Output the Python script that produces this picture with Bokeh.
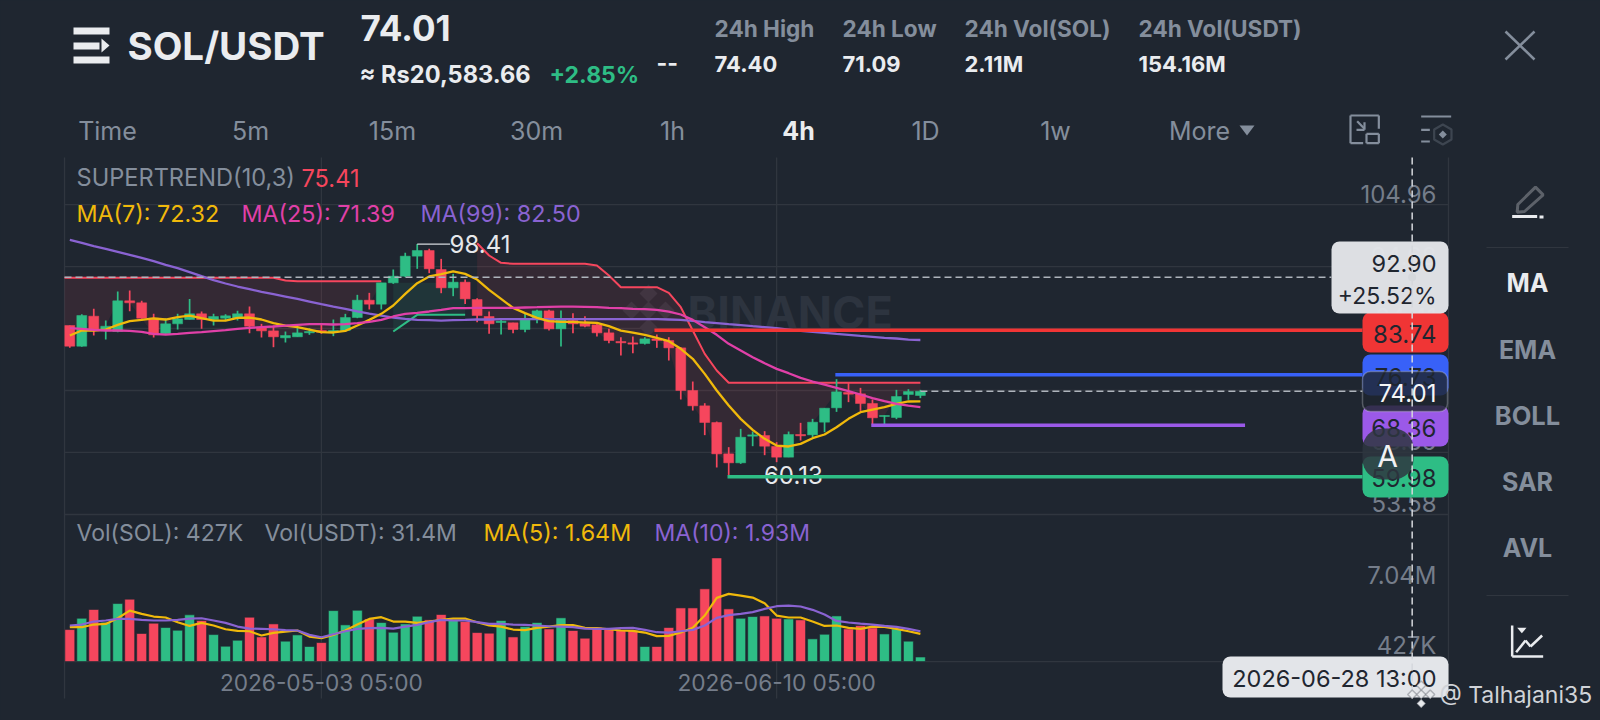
from bokeh.plotting import figure
from bokeh.embed import file_html
from bokeh.resources import INLINE
from bokeh.core.properties import value
from bokeh.models import (Range1d, Label, BoxAnnotation, PolyAnnotation)

# ---------- data ----------
opens = [84.90,81.48,86.45,84.02,83.91,88.99,88.66,86.12,83.52,85.18,85.90,86.84,85.90,86.12,86.12,86.84,84.63,84.02,82.86,83.03,83.69,84.08,83.80,84.08,86.23,89.10,88.44,91.98,93.08,96.40,97.34,94.19,91.15,92.09,89.21,86.40,85.40,85.35,84.24,86.01,87.33,84.35,85.73,85.24,85.01,83.69,82.25,82.03,81.92,82.69,82.42,81.20,74.13,71.59,68.83,63.63,62.14,66.56,66.67,64.85,63.08,66.84,66.78,68.88,71.26,73.80,73.58,71.98,69.82,69.65,73.47,73.30]
highs = [84.90,86.78,87.67,85.73,90.54,90.71,88.99,86.84,86.12,86.84,89.32,87.23,86.84,86.78,87.34,88.05,85.18,84.90,83.91,84.63,84.46,85.02,85.90,86.84,89.99,90.32,91.98,94.19,96.95,98.41,97.61,95.95,93.47,92.53,89.43,87.22,85.84,85.35,86.84,87.50,87.50,87.39,86.95,86.45,85.46,84.35,82.97,83.08,82.97,83.41,82.97,81.31,75.62,72.03,68.99,64.74,67.78,67.33,67.39,65.57,67.33,68.77,69.43,71.20,76.01,75.51,74.57,72.64,69.99,74.24,74.35,74.24]
lows = [81.20,81.37,83.25,82.58,83.80,87.28,86.01,82.92,83.36,84.24,85.90,84.35,84.90,85.73,85.73,83.63,82.92,81.31,82.09,83.03,83.36,83.52,83.14,83.91,86.12,87.56,87.56,91.81,92.92,94.30,93.58,90.26,89.77,88.49,85.46,83.52,83.41,83.63,83.80,85.29,84.07,81.42,83.63,84.63,83.08,81.98,79.93,80.32,81.75,81.20,79.10,72.64,70.81,66.73,61.37,60.13,61.97,64.90,63.41,62.25,63.08,65.84,66.39,67.22,70.59,72.20,70.76,68.49,68.49,69.38,72.58,72.86]
closes = [81.48,86.56,84.02,84.79,88.99,88.66,86.12,83.36,85.18,86.01,86.84,85.90,86.40,86.51,86.84,84.79,84.02,83.03,83.25,83.69,83.91,83.80,84.08,86.23,89.10,88.44,91.98,93.08,96.40,97.34,94.30,91.15,92.09,89.32,86.56,85.18,85.62,84.24,85.95,87.33,84.35,85.84,85.18,84.79,83.69,82.42,82.03,81.81,82.69,82.42,81.20,74.13,71.59,68.83,63.63,62.14,66.39,66.78,64.90,63.08,66.84,66.62,68.88,71.20,73.91,73.52,71.98,69.60,69.99,73.14,73.96,74.01]
ma7 = [83.25,84.08,84.08,84.24,85.02,85.62,85.84,86.07,85.90,86.29,86.56,86.12,85.73,85.73,86.18,86.23,85.90,85.29,84.90,84.63,84.24,83.80,83.75,84.02,84.90,85.84,86.84,88.22,90.15,91.92,93.03,93.41,93.86,93.47,92.53,90.82,89.32,87.83,86.95,86.17,85.62,85.51,85.51,85.40,85.35,84.79,84.07,83.74,83.36,82.86,82.31,81.04,79.38,76.89,74.13,71.64,69.43,67.61,66.12,65.01,64.85,65.29,66.23,66.84,68.05,69.43,70.54,70.98,71.37,71.92,72.31,72.32]
ma25 = [84.46,84.35,84.19,84.08,84.08,84.02,83.86,83.52,83.41,83.52,83.69,83.80,83.97,84.13,84.35,84.52,84.63,84.74,84.90,85.02,85.13,85.13,85.07,85.13,85.29,85.51,85.84,86.40,86.84,87.00,87.23,87.50,87.78,87.78,87.83,87.83,87.83,87.83,87.89,87.94,88.00,88.05,88.05,88.00,87.94,87.83,87.78,87.67,87.61,87.50,87.22,86.73,85.84,84.63,83.36,81.87,80.76,79.65,78.66,77.72,77.00,76.23,75.62,75.12,74.57,74.02,73.47,72.86,72.36,71.92,71.64,71.39]
ma99 = [99.10,98.61,98.05,97.61,97.12,96.62,96.12,95.57,94.96,94.41,93.75,93.08,92.42,91.87,91.37,90.93,90.49,90.10,89.71,89.32,88.88,88.44,88.05,87.67,87.23,86.89,86.56,86.23,86.01,85.84,85.79,85.73,85.79,85.84,85.90,85.90,85.95,85.95,85.95,85.95,85.95,85.95,85.95,85.95,85.95,85.95,85.95,85.95,85.95,85.95,85.90,85.84,85.68,85.46,85.29,85.12,84.96,84.79,84.63,84.46,84.24,84.02,83.85,83.69,83.52,83.36,83.19,83.03,82.86,82.75,82.58,82.50]
trend_red_1 = [92.81]*18 + [92.36] + [92.25]*8
trend_green = [83.91,85.29,86.67,86.67,86.67,86.67,86.67]
trend_red_2 = [98.55,96.51,95.29,95.13,95.13,95.13,95.13,95.13,95.13,95.13,94.85,93.19,91.26,91.26,91.26,91.26,90.32,87.94,84.07,80.21,77.45,75.41,75.41,75.41,75.41,75.41,75.41,75.41,75.41,75.41,75.41,75.41,75.41,75.41,75.41,75.41,75.41,75.41]
green_fill_top = 92.0
volumes = [3.00,4.06,4.88,3.69,5.44,5.85,2.63,3.60,3.19,2.94,4.38,3.85,2.53,1.44,2.00,4.16,2.31,3.53,1.91,2.50,1.41,1.78,4.78,3.44,4.81,4.00,3.66,2.75,3.53,4.25,3.91,4.41,3.85,3.75,2.72,2.66,3.85,2.31,3.28,3.66,3.06,4.10,2.91,2.19,3.22,3.06,2.91,2.91,1.41,1.41,3.19,5.03,5.03,6.82,9.72,4.94,4.06,4.22,4.28,4.06,4.00,3.91,2.13,2.56,4.28,3.06,3.38,3.16,2.59,3.06,1.91,0.427]
vol_ma5 = [3.22,3.22,3.47,3.53,4.06,4.78,4.47,4.22,4.13,3.69,3.34,3.63,3.38,3.03,2.88,2.84,2.44,2.69,2.81,2.91,2.34,2.19,2.50,2.91,3.47,4.00,4.16,3.75,3.75,3.63,3.75,3.91,4.03,4.03,3.69,3.38,3.28,3.00,2.94,3.16,3.28,3.41,3.41,3.16,3.13,3.03,2.91,2.88,2.72,2.38,2.41,2.72,3.16,4.31,5.97,6.35,6.19,6.00,5.47,4.31,4.13,4.13,3.75,3.34,3.38,3.16,3.06,3.28,3.25,3.06,2.84,2.59]
vol_ma10 = [3.38,3.47,3.75,3.85,4.00,4.00,3.91,3.85,3.85,3.91,4.03,4.06,3.85,3.63,3.28,3.09,3.06,3.03,2.94,2.91,2.50,2.28,2.56,2.84,3.06,3.13,3.16,3.09,3.28,3.44,3.69,3.91,3.85,3.85,3.69,3.53,3.53,3.47,3.44,3.38,3.31,3.28,3.22,3.09,3.06,3.06,3.13,3.16,2.97,2.75,2.72,2.84,2.97,3.38,4.10,4.35,4.47,4.63,4.94,5.19,5.25,5.16,4.85,4.41,3.81,3.66,3.56,3.47,3.34,3.25,3.06,2.84]
price_ticks = [104.96,94.68,84.41,74.13,63.86,53.58]
vol_ticks = [7.04,0.427]
vol_tick_labels = ["7.04M","427K"]
date_ticks = [21,59]
date_labels = ["2026-05-03 05:00","2026-06-10 05:00"]
level_price = [84.10,76.73,68.36,59.85]
level_start = [48.8,63.9,66.9,54.9]
level_end = [107.9,107.9,98.1,107.9]
level_color = ["#f23535","#3861f8","#9b59e8","#2ebd85"]
cursor_index = 112.05
cursor_price = 92.90
last_price = 74.01
last_index = 71
high_index, high_price = 29, 98.41
low_index, low_price = 60.4, 60.13

# ---------- style ----------
BG = "#1f2630"; GREY = "#848e9c"; AXIS = "#757d8a"; WHITE = "#eaecef"; DARK = "#1f2630"
RED = "#f6465d"; GREEN = "#2ebd85"; YEL = "#f0b90b"; PINK = "#e040a8"; PUR = "#8a63d2"
GRID = "#30363f"; FONT = "Inter"
W = 1600; H = 720
x = list(range(len(closes)))

# scales: one canvas, pane limits expressed in the chart's own units
PANE_LEFT, PANE_RIGHT = -0.442, 115.08     # bar index
PANE_TOP, PANE_BOTTOM = 112.75, 23.08      # price units
TICK_RIGHT = 114.08                        # right edge of the tick labels
TAG_LEFT = 107.9
VOL_DATE_Y = -1.97

p = figure(width=W, height=H, x_range=Range1d(-5.785, 127.77), y_range=Range1d(19.43, 138.78),
           x_axis_location=None, y_axis_location=None, toolbar_location=None, tools="",
           output_backend="svg", background_fill_color=BG, border_fill_color=BG, outline_line_color=None,
           min_border_left=0, min_border_right=0, min_border_top=0, min_border_bottom=0)
p.grid.visible = False
p.extra_y_ranges = {"vol": Range1d(-5.53, 62.0)}

# ---------- grid ----------
p.segment([PANE_LEFT]*len(price_ticks), price_ticks, [PANE_RIGHT]*len(price_ticks), price_ticks, line_color=GRID, line_width=1.3, level="underlay")
p.segment(date_ticks, [PANE_TOP]*2, date_ticks, [PANE_BOTTOM]*2, line_color=GRID, line_width=1.3, level="underlay")
p.segment([PANE_LEFT, PANE_RIGHT], [PANE_TOP]*2, [PANE_LEFT, PANE_RIGHT], [PANE_BOTTOM]*2, line_color=GRID, line_width=1.3, level="underlay")
p.segment([PANE_LEFT], [0], [PANE_RIGHT], [0], y_range_name="vol", line_color=GRID, line_width=1.3, level="underlay")

# ---------- chrome helpers (pixels of the 1600x720 picture) ----------
def txt(s, px, py, size, color, bold=False, align="left", level="annotation"):
    p.add_layout(Label(x=px, y=py, x_units="canvas", y_units="canvas", text=s, text_font=FONT,
                       text_font_size=f"{size}px", text_color=color, text_align=align, text_baseline="middle",
                       text_font_style="bold" if bold else "normal", level=level))

def box(l, t, r, b, color, alpha=1.0, radius=0, line=None):
    p.add_layout(BoxAnnotation(left=l, right=r, top=t, bottom=b, left_units="canvas", right_units="canvas",
                               top_units="canvas", bottom_units="canvas", fill_color=color, fill_alpha=alpha,
                               line_color=line, line_width=1.5, border_radius=radius))

def poly(pts, color, alpha=1.0, line=None, width=2, fill=True, level="annotation"):
    p.add_layout(PolyAnnotation(xs=[a for a, _ in pts], ys=[b for _, b in pts], xs_units="canvas", ys_units="canvas",
                                fill_color=color if fill else None, fill_alpha=alpha if fill else 0,
                                line_color=line, line_width=width, level=level))

def stroke(a, b, c, d, color, w=2.5):
    dx, dy = c-a, d-b
    n = (dx*dx+dy*dy)**0.5
    ox, oy = -dy/n*w/2, dx/n*w/2
    poly([(a+ox, b+oy), (c+ox, d+oy), (c-ox, d-oy), (a-ox, b-oy)], color)

def diamond(cx, cy, r, color, alpha=1.0, level="annotation", line=None, width=2):
    poly([(cx, cy-r), (cx+r, cy), (cx, cy+r), (cx-r, cy)], color, alpha, line=line, width=width, level=level)

# ---------- watermark ----------
WM = "#2d343f"
txt("BINANCE", 687, 312, 45, WM, True, level="underlay")
for dx, dy in [(0, 0), (-17, 0), (17, 0), (0, -17), (0, 17)]:
    diamond(648+dx, 310+dy, 9, WM, level="underlay")

# ---------- price pane ----------
x_red_1 = [PANE_LEFT] + x[1:27]
p.varea(x=x_red_1, y1=trend_red_1, y2=closes[:27], fill_color=RED, fill_alpha=0.10)
p.varea(x=x[27:34], y1=trend_green, y2=[green_fill_top]*7, fill_color=GREEN, fill_alpha=0.10)
p.varea(x=x[34:], y1=trend_red_2, y2=closes[34:], fill_color=RED, fill_alpha=0.10)
p.line(x_red_1, trend_red_1, line_color=RED, line_width=2)
p.line(x[27:34], trend_green, line_color=GREEN, line_width=2)
p.line(x[34:], trend_red_2, line_color=RED, line_width=2)

colors = [GREEN if c >= o else RED for o, c in zip(opens, closes)]
p.segment(x, lows, x, highs, line_color=colors, line_width=1.7)
p.vbar(x=x, top=[max(o, c) for o, c in zip(opens, closes)], bottom=[min(o, c) for o, c in zip(opens, closes)],
       width=0.83, fill_color=colors, line_color=colors, line_width=0.5)

p.line(x, ma99, line_color=PUR, line_width=2.3)
p.line(x, ma7, line_color=YEL, line_width=2.3)
p.line(x, ma25, line_color=PINK, line_width=2.3)

p.text(x=[low_index], y=[low_price], text=[f"{low_price:.2f}"], text_color="#e6e8eb", text_font_size="24px",
       text_font=value(FONT), text_align="center", text_baseline="middle")
p.segment(level_start, level_price, level_end, level_price, line_color=level_color, line_width=3.5)

p.segment([high_index], [high_price], [high_index+2.75], [high_price], line_color="#d5d8dc", line_width=1.2)
p.text(x=[high_index+2.7], y=[high_price], text=[f"{high_price:.2f}"], text_color="#e6e8eb", text_font_size="24px",
       text_font=value(FONT), text_align="left", text_baseline="middle")

p.segment([PANE_LEFT], [cursor_price], [105.3], [cursor_price], line_color="#aeb4bc", line_width=1.5, line_dash="7 4")
p.segment([last_index], [last_price], [TAG_LEFT], [last_price], line_color="#aeb4bc", line_width=1.5, line_dash="7 4")

# ---------- volume pane ----------
p.vbar(x=x, top=volumes, bottom=0, width=0.83, y_range_name="vol", fill_color=colors, line_color=BG, line_width=0.6)
p.line(x, vol_ma5, y_range_name="vol", line_color=YEL, line_width=2.2)
p.line(x, vol_ma10, y_range_name="vol", line_color=PUR, line_width=2.2)

# ---------- ticks ----------
p.text(x=[TICK_RIGHT]*len(price_ticks), y=price_ticks, text=[f"{t:.2f}" for t in price_ticks], y_offset=-11,
       text_color=AXIS, text_font_size="24px", text_font=value(FONT), text_align="right", text_baseline="middle", level="guide")
p.text(x=[TICK_RIGHT]*len(vol_ticks), y=vol_ticks, text=vol_tick_labels, y_offset=-11, y_range_name="vol",
       text_color=AXIS, text_font_size="24px", text_font=value(FONT), text_align="right", text_baseline="middle", level="guide")
p.text(x=date_ticks, y=[VOL_DATE_Y]*2, text=date_labels, y_range_name="vol",
       text_color=AXIS, text_font_size="22.7px", text_font=value(FONT), text_align="center", text_baseline="middle", level="guide")

# ---------- legends ----------
txt("SUPERTREND(10,3)", 76, 177, 23.6, GREY)
txt("75.41", 301, 177, 23.6, RED)
txt("MA(7): 72.32", 76, 213, 23.3, YEL)
txt("MA(25): 71.39", 241, 213, 23.3, PINK)
txt("MA(99): 82.50", 420, 213, 23.3, PUR)
txt("Vol(SOL): 427K", 76, 532, 23, GREY)
txt("Vol(USDT): 31.4M", 264, 532, 23, GREY)
txt("MA(5): 1.64M", 483, 532, 23.3, YEL)
txt("MA(10): 1.93M", 654, 532, 23, PUR)

# ---------- header ----------
box(73, 27, 109, 34, WHITE)
box(73, 42, 99, 49, WHITE)
box(73, 56, 109, 63, WHITE)
poly([(101, 38), (109, 45), (101, 52)], WHITE)
txt("SOL/USDT", 127, 45, 38.5, WHITE, True)
txt("74.01", 360, 27, 35, WHITE, True)
txt("≈ Rs20,583.66", 359, 74, 23.6, WHITE, True)
txt("+2.85%", 549, 74, 23, GREEN, True)
txt("--", 656, 62, 23, WHITE, True)
for px, head, val in [(714, "24h High", "74.40"), (842, "24h Low", "71.09"), (964, "24h Vol(SOL)", "2.11M"), (1138, "24h Vol(USDT)", "154.16M")]:
    txt(head, px, 28, 22.6, GREY, True)
    txt(val, px, 63, 22, WHITE, True)
stroke(1505, 31, 1534, 59, GREY, 2.5)
stroke(1534, 31, 1505, 59, GREY, 2.5)

for px, s in [(107, "Time"), (250, "5m"), (392, "15m"), (536, "30m"), (672, "1h"), (925, "1D"), (1055, "1w"), (1199, "More")]:
    txt(s, px, 130, 25, GREY, False, "center")
txt("4h", 798, 130, 25, WHITE, True, "center")
poly([(1239, 125), (1254, 125), (1246.5, 135)], GREY)

def i1(a, b): return (1330+a/3, 100+b/3)
for seg in [((60, 45), (145, 45)), ((145, 45), (145, 85)), ((60, 45), (60, 128)), ((60, 128), (98, 128)),
            ((108, 100), (145, 100)), ((145, 100), (145, 128)), ((145, 128), (108, 128)), ((108, 128), (108, 100)),
            ((80, 62), (102, 85)), ((102, 65), (102, 88)), ((102, 88), (78, 88)),
            ((272, 48), (362, 48)), ((272, 88), (298, 88)), ((272, 123), (298, 123))]:
    stroke(*i1(*seg[0]), *i1(*seg[1]), GREY, 2.2)
poly([i1(337, 72), i1(363, 87), i1(363, 117), i1(337, 132), i1(311, 117), i1(311, 87)], GREY, line=GREY, width=2.2, fill=False)
diamond(*i1(337, 102), 4, GREY)

# ---------- right side bar ----------
def i5(a, b): return (1290+a/3, 150+b/3)
poly([i5(735, 110), i5(758, 133), i5(702, 183), i5(680, 185), i5(682, 162)], WHITE, line=WHITE, width=3, fill=False)
stroke(*i5(665, 198), *i5(740, 198), WHITE, 3)
box(1539, 215, 1543, 218, WHITE)
box(1486, 246.5, 1568, 247.5, GRID)
txt("MA", 1527, 282, 25, WHITE, True, "center")
txt("EMA", 1527, 349, 25, GREY, True, "center")
txt("BOLL", 1527, 415, 25.5, GREY, True, "center")
txt("SAR", 1527, 481, 25, GREY, True, "center")
txt("AVL", 1527, 547, 25, GREY, True, "center")
box(1486, 594.5, 1568, 595.5, GRID)
def i8(a, b): return (1210+a/3, 590+b/3)
stroke(*i8(905, 105), *i8(905, 198), WHITE, 2.5)
stroke(*i8(905, 198), *i8(998, 198), WHITE, 2.5)
stroke(*i8(917, 185), *i8(945, 150), WHITE, 2.5)
stroke(*i8(945, 150), *i8(960, 168), WHITE, 2.5)
stroke(*i8(960, 168), *i8(995, 135), WHITE, 2.5)
poly([i8(920, 112), i8(948, 112), i8(934, 128)], WHITE)

# ---------- price tags ----------
box(1362, 312, 1448, 352, "#f03535", radius=8)
box(1362, 354, 1448, 395, "#3861f8", radius=8)
box(1362, 405, 1448, 446, "#9b59e8", radius=8)
box(1362, 456, 1448, 497, GREEN, radius=8)
for s, py in [("83.74", 333), ("76.73", 376), ("68.36", 427), ("59.98", 477)]:
    txt(s, 1436, py, 24, DARK, False, "right")
box(1362, 428, 1413, 479, "#2e3640", 0.85, radius=20)
txt("A", 1387, 455, 30, "#f0f1f3", False, "center")
box(1362, 371, 1447, 411, "#1f2630", 0.82, radius=8, line="#d8dbe0")
txt("74.01", 1436, 392, 24, "#f5f6f7", False, "right")
box(1331, 241, 1448, 313, "#e3e5e9", 0.97, radius=8)
txt("92.90", 1436, 263, 23.5, DARK, False, "right")
txt("+25.52%", 1436, 295, 23, DARK, False, "right")

# ---------- cursor ----------
p.segment([cursor_index], [PANE_TOP], [cursor_index], [PANE_BOTTOM], line_color="#d5d8dc", line_width=1.5, line_dash="7 4", level="overlay")
p.scatter([cursor_index], [cursor_price], size=8, marker="circle", fill_color="#d5d8dc", line_color=None, level="overlay")

box(1222, 656, 1448, 697, "#e3e5e9", radius=8)
txt("2026-06-28 13:00", 1436, 678, 23.5, DARK, False, "right")
for dx, dy in [(0, 0), (-9, 0), (9, 0), (0, -9), (0, 9)]:
    diamond(1420.7+dx, 694+dy, 4.5, "#e8eaed", level="overlay", line="#2a313c", width=1.5)
txt("@ Talhajani35", 1439, 694, 23, "#d0d3d8", level="overlay")

html = file_html(p, INLINE)
html = html.replace("<head>", f"<head><style>html,body{{background:{BG};overflow:hidden}}</style>", 1)
open("out.html", "w").write(html)
